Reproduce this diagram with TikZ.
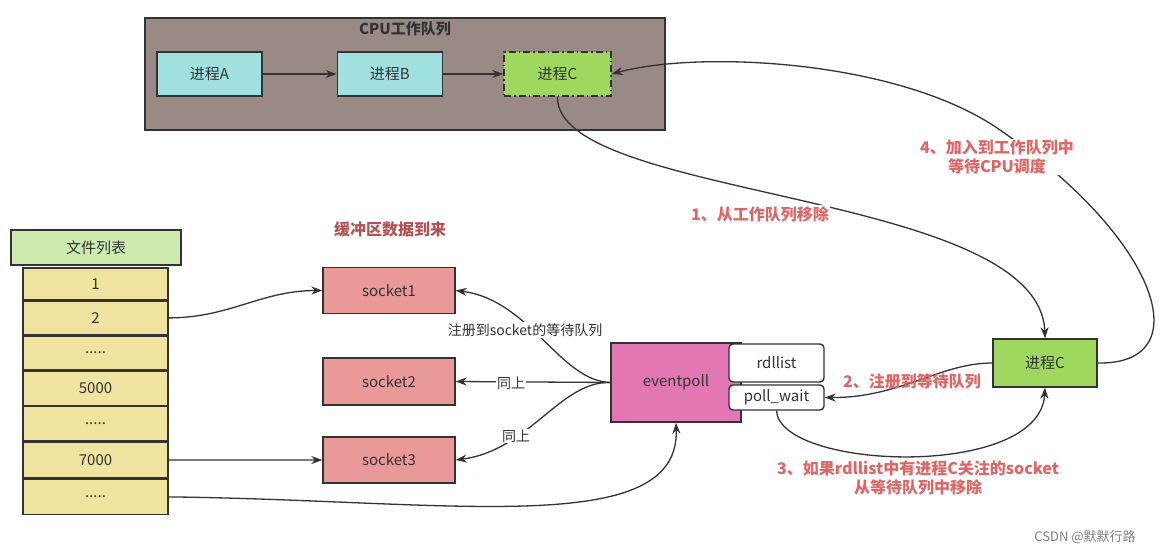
\documentclass[tikz,border=0pt]{standalone}
\usepackage{fontspec}
\setmainfont{Noto Sans CJK SC}
\usepackage{tikz}
\usetikzlibrary{arrows.meta,positioning}
\definecolor{qgray}{HTML}{9A8A85}
\definecolor{qcyan}{HTML}{A0E0E0}
\definecolor{qgreen}{HTML}{9ED85F}
\definecolor{qlist}{HTML}{CDEBB0}
\definecolor{qyellow}{HTML}{F0E3A0}
\definecolor{qsock}{HTML}{EA9999}
\definecolor{qpink}{HTML}{E377B4}
\definecolor{qred}{HTML}{E06666}
\definecolor{qdark}{HTML}{333333}
\tikzset{
  box/.style={draw=qdark, line width=1.4pt, minimum width=#1, inner sep=0pt},
  proc/.style={box=105pt, minimum height=44pt, fill=qcyan},
  cell/.style={box=145pt, minimum height=34pt, fill=qyellow},
  sock/.style={box=132pt, minimum height=46pt, fill=qsock},
  tag/.style={draw=qdark, line width=1.4pt, rounded corners=4pt, fill=white, minimum width=95pt, inner sep=0pt},
  lbl/.style={text=qred, font=\bfseries\fontsize{16}{19}\selectfont, align=center},
  note/.style={text=qdark, fill=white, inner sep=1pt, font=\fontsize{14}{16}\selectfont},
  arr/.style={-{Stealth[length=11pt,width=8pt]}, draw=qdark, line width=1.3pt}
}
\begin{document}
\begin{tikzpicture}[x=1pt, y=-1pt, font=\fontsize{15}{17}\selectfont, text=qdark]
\useasboundingbox (0,0) rectangle (1167,556);
\node[box=520pt, minimum height=112pt, fill=qgray] (cpu) at (405,74) {};
\node[font=\bfseries\fontsize{15}{17}\selectfont] (cputitle) at (405,29) {CPU工作队列};
\node[proc] (pa) at (209.5,74) {进程A};
\node[proc, right=74pt of pa] (pb) {进程B};
\node[proc, fill=qgreen, dash pattern=on 7pt off 3pt on 1.5pt off 3pt, minimum width=107pt] (pc) at (557.5,74) {进程C};
\draw[arr] (pa) -- (pb);
\draw[arr] (pb) -- (pc);

\node[box=170pt, minimum height=35pt, fill=qlist] (files) at (96,247.5) {文件列表};
\node[cell, minimum height=32pt] (r1) at (95.5,284) {1};
\node[cell, minimum height=33pt, below=0pt of r1] (r2) {2};
\node[cell, below=0pt of r2] (r3) {.....};
\node[cell, below=0pt of r3] (r4) {5000};
\node[cell, below=0pt of r4] (r5) {.....};
\node[cell, minimum height=36pt, below=0pt of r5] (r6) {7000};
\node[cell, minimum height=35pt, below=0pt of r6] (r7) {.....};

\node[text=qred!80!black, font=\bfseries\fontsize{16}{18}\selectfont] (buf) at (390,229) {缓冲区数据到来};
\node[sock] (s1) at (389,290.5) {socket1};
\node[sock, minimum height=47pt] (s2) at (389,381.5) {socket2};
\node[sock] (s3) at (389,460) {socket3};

\node[box=130pt, minimum height=79pt, fill=qpink] (ep) at (676,382.5) {eventpoll};
\node[tag, minimum height=38pt] (rdl) at (776.5,363) {rdllist};
\node[tag, minimum height=25pt] (pw) at (776.5,397.5) {poll\_wait};
\node[proc, fill=qgreen, minimum width=104pt, minimum height=48pt] (pc2) at (1045,363) {进程C};

\draw[arr] (r2.east) to[out=0, in=180] (s1.west);
\draw[arr] (r6.east) -- (s3.west);
\draw[arr] (r7.east) .. controls (450,500) and (680,540) .. (ep.south);
\draw[arr] (ep.west) .. controls (560,381) and (530,300) .. (s1.east);
\draw[arr] (ep.west) -- (s2.east);
\draw[arr] (ep.west) .. controls (560,381) and (530,450) .. (s3.east);
\node[note] (n1) at (525,330) {注册到socket的等待队列};
\node[note] (n2) at (511,383) {同上};
\node[note] (n3) at (516,436) {同上};

\draw[arr] (pc.south) .. controls (555,200) and (1040,190) .. (pc2.north);
\node[lbl, fill=white, inner sep=1pt] (l1) at (760,214) {1、从工作队列移除};
\draw[arr] (pc2.east) .. controls (1200,365) and (1160,240) .. (1000,130) .. controls (900,60) and (700,50) .. (pc.east);
\node[lbl, fill=white, inner sep=1pt] (l4) at (997,157) {4、加入到工作队列中\\等待CPU调度};
\draw[arr] (pc2.west) .. controls (940,363) and (900,398) .. (pw.east);
\node[lbl] (l2) at (912,381) {2、注册到等待队列};
\draw[arr] (pw.south) .. controls (780,470) and (1040,480) .. (pc2.south);
\node[lbl, fill=white, inner sep=1pt] (l3) at (918,478) {3、如果rdllist中有进程C关注的socket\\从等待队列中移除};
\node[text=gray, font=\fontsize{13}{15}\selectfont] (wm) at (1085,537) {CSDN @默默行路};
\end{tikzpicture}
\end{document}
